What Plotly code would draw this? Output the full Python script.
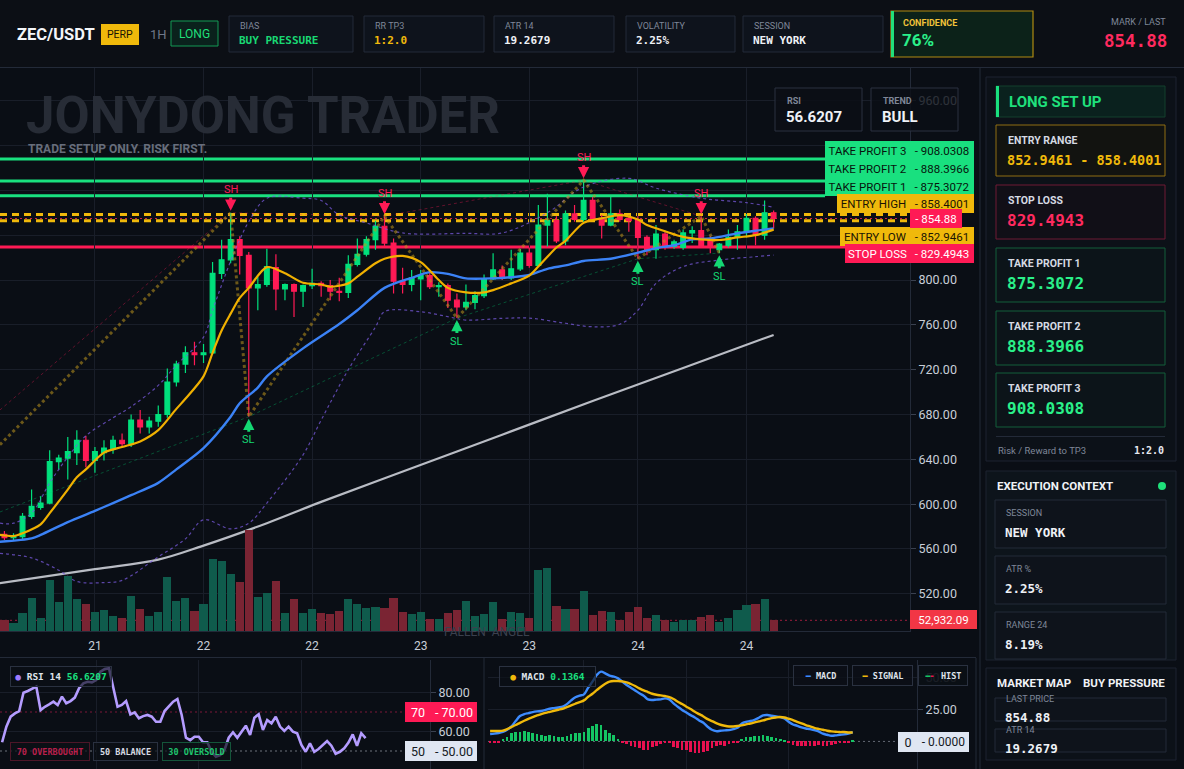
import plotly.graph_objects as go

W, H = 1184, 769

# ---------------- data ----------------
hours = list(range(86))
tick_idx = [10, 22, 34, 46, 58, 70, 82]
tick_text = ["21", "22", "22", "23", "23", "24", "24"]
price_ticks = [520, 560, 600, 640, 680, 720, 760, 800, 840, 880, 920, 960]
hidden_price_ticks = [840, 880, 920]  # covered by the level tags in the picture

opens = [573, 570, 571, 589, 597, 601, 638, 641, 646, 657, 639, 646, 649, 657, 654, 675, 669, 674, 680, 709,
         725, 735, 733.5, 735, 806, 818, 836, 822, 793, 796, 811, 792, 796, 790, 795, 797, 795, 790, 789, 814,
         823, 836, 848, 833, 799, 796, 801, 804, 794, 795, 782, 776, 780, 786, 801, 809, 802, 810, 824, 813,
         849, 853, 835, 859, 854, 871, 855, 849, 859, 855, 854, 838, 827, 841, 830, 829, 842, 844, 836, 827,
         831, 838, 843, 855, 840, 860]
highs = [576, 574, 592, 613, 607, 648, 644, 660, 666, 661, 651, 657, 661, 663, 680, 684, 678, 688, 721, 728,
         741, 745, 743, 816, 836, 860, 839, 825, 803, 828, 823, 797, 797, 796, 810, 799, 800, 802, 822, 837,
         839, 853, 857, 837, 811, 809, 809, 807, 798, 797, 788, 796, 790, 805, 824, 813, 827, 828, 829, 867,
         877, 857, 862, 867, 889, 874, 858, 874, 863, 858, 857, 840, 849, 844, 836, 845, 848, 857, 839, 833,
         845, 849, 859, 857, 871, 862]
lows = [568, 568, 569, 587, 595, 600, 631, 622, 635, 633, 628, 639, 645, 651, 651, 663, 663, 669, 677, 705,
        717, 724, 726, 734, 801, 815, 805, 678, 773, 794, 773, 782, 767, 776, 792, 785, 782, 781, 784, 812,
        821, 827, 830, 788, 788, 790, 782, 792, 785, 775, 766, 773, 774, 784, 800, 800, 800, 808, 811, 812,
        830, 833, 831, 852, 852, 853, 837, 848, 852, 843, 819, 822, 819, 827, 828, 827, 833, 829, 824, 824,
        829, 827, 838, 831, 836, 846]
closes = [570, 572, 589, 598, 601, 638, 641, 647, 657, 639, 647, 650, 657, 654, 675, 669, 674, 680, 709, 725,
          735, 733.5, 735, 806, 818, 836, 822, 793, 796, 812, 792, 796, 790, 795, 797, 795, 790, 789, 814, 823,
          836, 848, 833, 799, 796, 802, 804, 794, 795, 782, 776, 780, 786, 801, 809, 802, 810, 824, 813, 849,
          853, 835, 859, 854, 871, 855, 849, 859, 854, 853, 838, 827, 841, 830, 834, 842, 844, 830, 830, 832,
          838, 843, 855, 840, 860, 854.88]
volumes = [54e3, 41e3, 89e3, 163e3, 64e3, 250e3, 143e3, 272e3, 158e3, 134e3, 94e3, 104e3, 74e3, 64e3, 173e3,
           109e3, 74e3, 94e3, 267e3, 148e3, 163e3, 99e3, 134e3, 356e3, 346e3, 284e3, 242e3, 498e3, 168e3, 188e3,
           247e3, 89e3, 158e3, 89e3, 109e3, 89e3, 84e3, 99e3, 158e3, 134e3, 114e3, 119e3, 114e3, 163e3, 94e3,
           84e3, 94e3, 59e3, 59e3, 89e3, 104e3, 148e3, 74e3, 84e3, 143e3, 59e3, 94e3, 89e3, 64e3, 302e3,
           312e3, 124e3, 109e3, 109e3, 198e3, 79e3, 99e3, 94e3, 53e3, 94e3, 119e3, 64e3, 79e3, 53e3, 45e3,
           54e3, 54e3, 69e3, 79e3, 45e3, 64e3, 104e3, 129e3, 134e3, 158e3, 52932.09]

ema_fast_x = [-0.5, 1, 2, 4, 5, 7, 8, 9, 11, 13, 15, 17, 19, 20, 22, 23, 24, 25, 26, 27, 29, 31, 33, 35, 36, 38, 39,
              41, 42, 44, 46, 48, 49, 51, 53, 54, 56, 58, 59, 61, 62, 64, 66, 68, 70, 71, 73, 75, 77, 79, 81, 83, 85]
ema_fast_y = [572.5, 571.5, 574, 582, 592, 613, 624, 631, 646, 651, 656, 666, 685, 694, 714, 735, 755, 770, 784, 793,
              811.5, 806, 797.5, 796, 794, 797, 803, 815, 819, 821.5, 816, 800, 793, 789, 789, 791, 797, 804, 812,
              829, 835, 851, 855, 858, 854, 849, 843.5, 838.5, 836.3, 835.7, 838, 840, 845]
ema_slow_x = [-0.5, 3, 4, 7, 10, 12, 14, 17, 19, 22, 25, 26, 28, 29, 33, 37, 39, 42, 45, 47, 49, 51, 54, 56, 58, 60,
              62, 64, 67, 70, 72, 74, 76, 78, 81, 83, 85]
ema_slow_y = [566.5, 569.5, 572.5, 584, 594, 601, 608, 619, 631, 650, 678, 690, 704, 714, 739, 760.7, 773, 793, 802,
              807, 805.5, 801.5, 801.5, 802.5, 804.5, 810, 813, 817, 819, 824.4, 828.5, 831, 836.3, 837, 841.6,
              844, 846]
ema_long_x = [-0.5, 10, 17, 22, 29, 35, 45, 55, 65, 75, 85]
ema_long_y = [529.5, 542, 550.5, 563, 583, 602, 632, 662, 692, 721.5, 751]
band_up_x = [-0.5, 1, 3, 5, 7, 9, 12, 14, 17, 19, 22, 23, 25, 26, 27, 29, 33, 35, 37, 40, 44, 51, 55, 60, 64, 69,
             72, 77, 82, 85]
band_up_y = [583, 583, 592, 619, 642, 661, 677, 687, 706, 724, 749, 773, 817, 836, 852, 873, 873, 871, 858, 851,
             842, 841.7, 842, 860, 883, 890.7, 882, 873, 869, 865]
band_lo_x = [-0.5, 3, 6, 8, 11, 13, 17, 20, 22, 25, 27, 29, 33, 35, 38, 41, 42, 46, 49, 51, 55, 58, 62, 65, 68, 70,
             72, 75, 79, 83, 85]
band_lo_y = [556, 552, 541, 531, 530, 532, 553, 569, 586, 578, 583, 601, 644, 675, 720, 758, 771.7, 771.7, 767.3,
             764.3, 765.8, 766, 761.4, 758.3, 760.5, 773, 797, 812, 817.8, 820.8, 822.3]

sh_idx = [25, 42, 64, 77]
sl_idx = [27, 50, 70, 79]
edge_x = -0.5
zig_start, hi_start, lo_start = 653, 684, 593

rsi = [54.5, 62.5, 67.6, 69.3, 70.5, 79.9, 80.8, 81.8, 83.0, 71.0, 72.7, 73.9, 75.3, 73.6, 77.9, 74.5, 75.6, 77.4,
       82.2, 84.7, 85.5, 85.2, 86.4, 90.7, 92.0, 92.4, 83.0, 72.7, 73.6, 75.6, 68.8, 69.8, 66.8, 67.9, 68.5, 67.6,
       65.0, 65.0, 70.5, 72.7, 75.3, 76.7, 68.5, 56.8, 55.6, 57.3, 57.3, 54.5, 54.5, 49.6, 47.1, 47.9, 50.5, 56.8,
       59.6, 56.8, 59.9, 63.0, 58.2, 67.1, 68.8, 60.8, 65.9, 64.2, 67.6, 62.5, 60.3, 62.5, 59.9, 59.1, 53.1, 49.6,
       53.9, 49.6, 51.0, 53.1, 55.1, 52.7, 48.6, 49.6, 51.4, 54.3, 58.5, 52.7, 59.1, 56.62]
macd = [5.8, 6.1, 6.6, 7.5, 9.1, 11.7, 15.9, 19.8, 21.3, 22.1, 22.9, 23.4, 23.7, 24.5, 25.5, 26.0, 26.5, 27.1, 29.1,
        32.0, 34.4, 35.7, 36.7, 41.9, 46.6, 51.8, 54.4, 53.1, 51.3, 50.5, 49.2, 46.6, 44.0, 41.9, 39.8, 37.5, 35.7,
        32.8, 32.3, 32.6, 32.8, 33.6, 32.8, 29.7, 27.1, 24.5, 22.6, 20.5, 18.7, 16.4, 14.5, 11.4, 9.1, 8.0, 8.3,
        8.6, 8.8, 9.6, 10.6, 14.0, 15.3, 15.9, 16.9, 18.5, 20.3, 20.6, 20.0, 19.5, 19.0, 17.9, 15.3, 13.2, 12.2,
        10.9, 10.1, 9.6, 8.8, 7.8, 6.0, 5.2, 4.4, 4.7, 5.2, 5.5, 6.2, 7.3]
signal = [8.1, 8.1, 8.1, 8.4, 9.6, 11.2, 12.8, 14.5, 16.1, 17.6, 18.9, 20.3, 21.3, 22.3, 23.1, 23.9, 24.7, 25.5,
          26.8, 28.1, 29.4, 30.7, 32.0, 34.9, 37.2, 40.0, 42.7, 45.0, 46.6, 47.1, 47.1, 46.8, 46.1, 44.8, 43.2,
          41.4, 39.8, 38.5, 37.2, 36.4, 35.9, 35.4, 34.6, 33.1, 31.0, 29.2, 27.1, 25.3, 23.1, 21.3, 19.5, 17.4,
          15.9, 14.3, 13.0, 12.2, 11.7, 11.7, 12.0, 12.5, 13.3, 14.0, 14.8, 15.6, 16.4, 17.4, 18.2, 18.7, 19.0,
          18.7, 17.7, 16.7, 15.3, 14.0, 12.8, 11.7, 10.6, 9.8, 9.1, 8.3, 7.8, 7.6, 7.3, 7.3, 7.0, 7.0]
hist = [-0.8, -0.5, -0.5, 1.8, 3.6, 6.3, 7.0, 7.6, 8.1, 7.0, 6.3, 5.7, 4.9, 4.4, 4.9, 4.4, 3.6, 3.6, 4.4, 5.5, 6.3,
        6.8, 7.0, 10.2, 12.2, 13.5, 12.8, 8.9, 6.3, 4.9, 1.8, -1.6, -2.3, -3.4, -4.4, -5.5, -6.8, -7.0, -4.7, -3.4,
        -2.3, -1.3, -1.6, -4.2, -5.5, -6.3, -7.0, -8.6, -8.9, -8.9, -8.6, -7.6, -5.5, -3.4, -2.9, -3.9, -1.8, -0.8,
        -0.5, 1.6, 3.4, 3.6, 3.9, 4.2, 4.9, 4.2, 3.1, 2.3, 1.8, 1.0, -0.8, -2.9, -3.4, -3.6, -3.9, -3.4, -3.6, -2.9,
        -3.4, -3.9, -2.9, -2.3, -1.6, -0.8, -0.5, 0.8]

tp3, tp2, tp1 = 908.0308, 888.3966, 875.3072
entry_high, entry_low, stop_loss = 858.4001, 852.9461, 829.4943
rsi_now, macd_now, atr14 = 56.6207, 0.1364, 19.2679

# ---------------- style ----------------
BG = "#0a0e15"
GRID = "#191e29"
EDGE = "#232a38"
GREEN = "#00e07c"
RED = "#ff1a55"
GOLD = "#f0b90b"
TXT = "#c9ced8"
DIM = "#7f8798"
SANS = "Roboto, Noto Sans, sans-serif"
NARROW = "Roboto, sans-serif"
MONO = "DejaVu Sans Mono, monospace"

S, A = [], []


def rect(x0, y0, x1, y1, fill, line=None, lw=1):
    S.append(dict(type="rect", xref="paper", yref="paper", x0=x0 / W, x1=x1 / W,
                  y0=1 - y1 / H, y1=1 - y0 / H, fillcolor=fill, layer="above",
                  line=dict(color=line or "rgba(0,0,0,0)", width=lw if line else 0)))


def pline(x0, y0, x1, y1, color, w=1, dash="solid"):
    S.append(dict(type="line", xref="paper", yref="paper", x0=x0 / W, x1=x1 / W,
                  y0=1 - y0 / H, y1=1 - y1 / H, line=dict(color=color, width=w, dash=dash), layer="above"))


def text(x, y, s, size=11, color=TXT, anchor="left", family=SANS, bold=False):
    A.append(dict(xref="paper", yref="paper", x=x / W, y=1 - y / H, showarrow=False,
                  text=f"<b>{s}</b>" if bold else s, xanchor=anchor, yanchor="middle",
                  font=dict(size=size, color=color, family=family)))


def tag(x0, x1, yc, s, bg, fg, h=17, size=12, border=None, family=NARROW, align="center"):
    A.append(dict(xref="paper", yref="paper", x=x0 / W, y=1 - yc / H, xanchor="left", yanchor="middle",
                  width=x1 - x0, height=h, text=s, showarrow=False, bgcolor=bg, align=align,
                  bordercolor=border or bg, borderwidth=1, borderpad=0,
                  font=dict(size=size, color=fg, family=family)))


fig = go.Figure()

vol_colors = ["#0f5b4c" if c >= o else "#7a2433" for o, c in zip(opens, closes)]
fig.add_trace(go.Bar(x=hours, y=volumes, marker=dict(color=vol_colors, line=dict(width=0)), width=0.9,
                     xaxis="x", yaxis="y2", hoverinfo="skip"))
fig.add_trace(go.Scatter(x=ema_long_x, y=ema_long_y, mode="lines", line=dict(color="#b9bcc4", width=2.2, shape="spline"),
                         hoverinfo="skip"))
for bx, by in ((band_up_x, band_up_y), (band_lo_x, band_lo_y)):
    fig.add_trace(go.Scatter(x=bx, y=by, mode="lines", hoverinfo="skip",
                             line=dict(color="rgba(120,90,220,0.75)", width=1.2, dash="dot", shape="spline")))

# swing structure lines
hi_x = [edge_x] + sh_idx
hi_y = [hi_start] + [highs[i] for i in sh_idx]
lo_x = [edge_x] + sl_idx
lo_y = [lo_start] + [lows[i] for i in sl_idx]
fig.add_trace(go.Scatter(x=hi_x, y=hi_y, mode="lines", hoverinfo="skip",
                         line=dict(color="rgba(255,26,85,0.35)", width=1, dash="dot")))
fig.add_trace(go.Scatter(x=lo_x, y=lo_y, mode="lines", hoverinfo="skip",
                         line=dict(color="rgba(0,200,110,0.35)", width=1, dash="dot")))
piv = sorted([(i, highs[i]) for i in sh_idx] + [(i, lows[i]) for i in sl_idx])
zig_x = [edge_x] + [p[0] for p in piv]
zig_y = [zig_start] + [p[1] for p in piv]
fig.add_trace(go.Scatter(x=zig_x, y=zig_y, mode="lines", hoverinfo="skip",
                         line=dict(color="rgba(190,150,30,0.55)", width=3, dash="dot")))

fig.add_trace(go.Candlestick(x=hours, open=opens, high=highs, low=lows, close=closes, whiskerwidth=0,
                             increasing=dict(line=dict(color=GREEN, width=1.2), fillcolor=GREEN),
                             decreasing=dict(line=dict(color=RED, width=1.2), fillcolor=RED),
                             hoverinfo="skip"))
fig.add_trace(go.Scatter(x=ema_slow_x, y=ema_slow_y, mode="lines", hoverinfo="skip",
                         line=dict(color="#3b82f6", width=2.4, shape="spline", smoothing=0.8)))
fig.add_trace(go.Scatter(x=ema_fast_x, y=ema_fast_y, mode="lines", hoverinfo="skip",
                         line=dict(color="#f0b000", width=2.2, shape="spline", smoothing=0.8)))

# RSI panel
fig.add_trace(go.Scatter(x=hours, y=rsi, mode="lines", xaxis="x2", yaxis="y3", hoverinfo="skip",
                         line=dict(color="#b49cff", width=2.6)))
# MACD panel
fig.add_trace(go.Bar(x=hours, y=hist, width=0.62, xaxis="x3", yaxis="y4", hoverinfo="skip",
                     marker=dict(color=["#14c463" if v >= 0 else "#e8104f" for v in hist], line=dict(width=0))))
fig.add_trace(go.Scatter(x=hours, y=macd, mode="lines", xaxis="x3", yaxis="y4", hoverinfo="skip",
                         line=dict(color="#3d8bfd", width=2.4, shape="spline")))
fig.add_trace(go.Scatter(x=hours, y=signal, mode="lines", xaxis="x3", yaxis="y4", hoverinfo="skip",
                         line=dict(color="#f0b90b", width=2.4, shape="spline")))

# ---------------- level lines ----------------
def level(y, x1, color, w=3, dash="solid"):
    S.append(dict(type="line", xref="paper", yref="y", x0=0, x1=x1 / W, y0=y, y1=y, layer="below",
                  line=dict(color=color, width=w, dash=dash)))


level(tp3, 825, "#19e07f")
level(tp2, 825, "#19e07f")
level(tp1, 825, "#19e07f")
level(stop_loss, 845, RED)
level(entry_high, 909, GOLD, 3, "7px,5px")
level(entry_low, 909, GOLD, 3, "7px,5px")
level(closes[-1], 909, "rgba(255,40,90,0.8)", 1, "2px,3px")
S.append(dict(type="line", xref="paper", yref="y2", x0=0, x1=909 / W, y0=volumes[-1], y1=volumes[-1],
              layer="below", line=dict(color="rgba(255,40,90,0.6)", width=1, dash="2px,3px")))

# level tags
for name, val, yc, x0, bg, fg in [
    ("TAKE PROFIT 1", tp1, 186.5, 825, "#19e07f", "#07140d"),
    ("TAKE PROFIT 2", tp2, 168, 825, "#19e07f", "#07140d"),
    ("TAKE PROFIT 3", tp3, 150.5, 825, "#19e07f", "#07140d"),
    ("ENTRY HIGH", entry_high, 203, 837, GOLD, "#1a1404"),
    ("ENTRY LOW", entry_low, 236, 840, GOLD, "#1a1404"),
    ("STOP LOSS", stop_loss, 254, 845, RED, "#ffffff"),
]:
    tag(x0, 908, yc, name, bg, fg, size=11.5)
    tag(910, 972, yc, f"- {val:.4f}", bg, fg, size=11.5)
tag(910, 960, 219, f"- {closes[-1]:.2f}", RED, "#ffffff", size=11.5)
tag(910, 975, 619.5, f"{volumes[-1]:,.2f}", "#f23645", "#ffffff", size=11.5)

# swing markers
for i in sh_idx:
    A.append(dict(x=i, y=highs[i], xref="x", yref="y", text="SH", showarrow=True, arrowhead=2, arrowsize=0.75,
                  arrowwidth=3, arrowcolor="#ff1a55", ax=0, ay=-23, standoff=2,
                  font=dict(size=11, color="#ff1a55", family=NARROW)))
for i in sl_idx:
    A.append(dict(x=i, y=lows[i], xref="x", yref="y", text="SL", showarrow=True, arrowhead=2, arrowsize=0.75,
                  arrowwidth=3, arrowcolor="#14d873", ax=0, ay=23, standoff=2,
                  font=dict(size=11, color="#14d873", family=NARROW)))

# ---------------- chart overlays ----------------
text(24, 115, "JONYDONG TRADER", 51, "#272c36", bold=True)
text(26, 149, "TRADE SETUP ONLY. RISK FIRST.", 12, "#676d7b", bold=True, family=NARROW)
text(487, 632, "FALLEN  ANGEL", 12, "#3a404e", anchor="center", family=NARROW)
rect(775, 88, 862, 131, "rgba(11,15,22,0.88)", "#2a3140")
rect(871, 88, 958, 131, "rgba(11,15,22,0.82)", "#2a3140")
text(785, 101, "RSI", 9, DIM, bold=True)
text(784, 117, f"{rsi_now:.4f}", 15, "#eef1f6", bold=True, family=NARROW)
text(881, 101, "TREND", 9, DIM, bold=True)
text(880, 117, "BULL", 15, "#eef1f6", bold=True, family=NARROW)

# RSI panel decorations
S.append(dict(type="line", xref="paper", yref="y3", x0=0, x1=405 / W, y0=70, y1=70, layer="below",
              line=dict(color="rgba(200,30,80,0.6)", width=1, dash="2px,3px")))
S.append(dict(type="line", xref="paper", yref="y3", x0=0, x1=405 / W, y0=50, y1=50, layer="below",
              line=dict(color="rgba(190,196,210,0.55)", width=1, dash="2px,3px")))
tag(10, 110, 676, f"<span style='color:#9d7bff'>●</span> <b>RSI 14</b> <span style='color:#19e07f'><b>{rsi_now:.4f}</b></span>",
    "rgba(11,15,22,0.65)", "#dfe3ea", h=19, size=9.5, border="#2a3140", family=MONO)
tag(10, 88, 751.5, "<b>70 OVERBOUGHT</b>", "rgba(11,15,22,0.7)", "#b8204c", h=17, size=8.5, border="#4d1628", family=MONO)
tag(93, 156, 751.5, "<b>50 BALANCE</b>", "rgba(11,15,22,0.7)", "#d6dae2", h=17, size=8.5, border="#2a3140", family=MONO)
tag(162, 229, 751.5, "<b>30 OVERSOLD</b>", "rgba(11,15,22,0.7)", "#1fc46d", h=17, size=8.5, border="#14553a", family=MONO)
tag(405, 429, 712, "70", RED, "#ffffff", h=18, size=12.5)
tag(431, 475, 712, "- 70.00", RED, "#ffffff", h=18, size=12.5)
tag(405, 429, 751, "50", "#dfe6f2", "#151a24", h=18, size=12.5)
tag(431, 475, 751, "- 50.00", "#dfe6f2", "#151a24", h=18, size=12.5)

# MACD panel decorations
S.append(dict(type="line", xref="paper", yref="y4", x0=488 / W, x1=898 / W, y0=0, y1=0, layer="below",
              line=dict(color="rgba(190,196,210,0.5)", width=1, dash="2px,3px")))
tag(499, 594, 676, f"<span style='color:#f0b90b'>●</span> <b>MACD</b> <span style='color:#19e07f'><b>{macd_now:.4f}</b></span>",
    "rgba(11,15,22,0.65)", "#dfe3ea", h=19, size=9.5, border="#2a3140", family=MONO)
tag(793, 846, 675, "<span style='color:#3d8bfd'>━</span> <b>MACD</b>", "rgba(11,15,22,0.8)", "#dfe3ea",
    h=19, size=8.5, border="#2a3140", family=MONO)
tag(852, 911, 675, "<span style='color:#f0b90b'>━</span> <b>SIGNAL</b>", "rgba(11,15,22,0.8)", "#dfe3ea",
    h=19, size=8.5, border="#2a3140", family=MONO)
tag(918, 966, 675, "<span style='color:#14c463'>━</span><span style='color:#e8104f'>╸</span> <b>HIST</b>",
    "rgba(11,15,22,0.92)", "#dfe3ea", h=19, size=8.5, border="#2a3140", family=MONO)
tag(898, 916, 741.5, "0", "#dfe6f2", "#151a24", h=18, size=12.5)
tag(918, 967, 741.5, "- 0.0000", "#dfe6f2", "#151a24", h=18, size=12)

# frame lines
pline(0, 657.5, 976, 657.5, EDGE)
pline(484, 658, 484, 769, EDGE)
pline(976, 658, 976, 769, EDGE)
pline(980, 68, 980, 769, EDGE)

# ---------------- header ----------------
rect(0, 0, W, 67, "#0c0f15")
pline(0, 67.5, W, 67.5, EDGE)
text(15, 34, "ZEC/USDT", 16.5, "#f4f6fa", bold=True)
rect(101, 24, 139, 45, GOLD)
text(120, 34.5, "PERP", 10.5, "#1a1404", anchor="center", family=NARROW)
text(148, 34, "1H", 13, "#6f7788")
rect(171, 21, 218, 46, "rgba(0,200,100,0.10)", "#139a55")
text(194.5, 34, "LONG", 12, "#20df79", anchor="center", family=NARROW)
for x0, x1, lab, val, col in [(229, 353, "BIAS", "BUY PRESSURE", "#19d873"),
                              (364, 484, "RR TP3", "1:2.0", GOLD),
                              (494, 614, "ATR 14", f"{atr14:.4f}", "#eef1f6"),
                              (626, 735, "VOLATILITY", "2.25%", "#eef1f6"),
                              (743, 883, "SESSION", "NEW YORK", "#eef1f6")]:
    rect(x0, 16, x1, 52, "#0e131c", EDGE)
    text(x0 + 9, 26, lab, 9, DIM, family=NARROW)
    text(x0 + 8, 41, val, 11, col, bold=True, family=MONO)
rect(891, 11, 1033, 57, "#0c2219", "#b08a12", 1.2)
rect(891, 11, 894, 57, "#22e07a")
text(901, 23, "CONFIDENCE", 9, "#f0c33a", bold=True, family=NARROW)
text(900, 40, "76%", 17, "#2af08a", bold=True)
text(1168, 22, "MARK / LAST", 9, DIM, anchor="right", family=NARROW)
text(1169, 41, f"{closes[-1]:.2f}", 17.5, "#ff2a5f", anchor="right", bold=True, family=MONO)

# ---------------- right panel ----------------
rect(986, 77, 1176, 461, "#0c1118", "#1c2230")
rect(996, 86, 1165, 117, "rgba(0,200,100,0.09)", "#12412c")
rect(996, 86, 999, 117, "#19e07f")
text(1007, 101.5, "LONG SET UP", 15, "#1fe07c", bold=True)
for y0, y1, lab, val, col, border, fill in [
    (125, 176, "ENTRY RANGE", f"{entry_low:.4f} - {entry_high:.4f}", GOLD, "#8f6f12", "#121310"),
    (185, 239, "STOP LOSS", f"{stop_loss:.4f}", "#ff2a5f", "#6e1a34", "#110f17"),
    (248, 302, "TAKE PROFIT 1", f"{tp1:.4f}", "#2af08a", "#135f3a", "#0c1419"),
    (311, 365, "TAKE PROFIT 2", f"{tp2:.4f}", "#2af08a", "#135f3a", "#0c1419"),
    (373, 427, "TAKE PROFIT 3", f"{tp3:.4f}", "#2af08a", "#135f3a", "#0c1419"),
]:
    rect(996, y0, 1165, y1, fill, border)
    text(1006, y0 + 15, lab, 10.5, "#d6dae2", bold=True, family=NARROW)
    big = 13.5 if len(val) > 10 else 16
    text(1005, y0 + 35, val, big, col, bold=True, family=MONO)
pline(996, 436.5, 1165, 436.5, EDGE)
text(996, 450, "Risk / Reward to TP3", 9.5, DIM, family=NARROW)
text(1166, 450, "1:2.0", 10, "#e6e9ef", anchor="right", bold=True, family=MONO)

rect(986, 471, 1176, 660, "#0d141b", "#1c2230")
text(995, 486, "EXECUTION CONTEXT", 11.5, "#f0f2f6", bold=True, family=NARROW)
S.append(dict(type="circle", xref="paper", yref="paper", x0=1158 / W, x1=1166 / W, y0=1 - 490 / H, y1=1 - 482 / H,
              fillcolor="#1ee07a", line=dict(width=0), layer="above"))
for y0, y1, lab, val in [(500, 548, "SESSION", "NEW YORK"), (556, 604, "ATR %", "2.25%"),
                         (612, 659, "RANGE 24", "8.19%")]:
    rect(995, y0, 1166, y1, "#0e131b", "#232a38")
    text(1004, y0 + 13, lab, 9, DIM, family=NARROW)
    text(1003, y0 + 32, val, 12.5, "#eef1f6", bold=True, family=MONO)

rect(986, 668, 1176, 760, "#0c1118", "#1c2230")
text(995, 683, "MARKET MAP", 11.5, "#f0f2f6", bold=True, family=NARROW)
text(1167, 683, "BUY PRESSURE", 11.5, "#f0f2f6", anchor="right", bold=True, family=NARROW)
for y0, y1, lab, val in [(698, 721, "LAST PRICE", f"{closes[-1]:.2f}"), (729, 752, "ATR 14", f"{atr14:.4f}")]:
    rect(995, y0, 1166, y1, "#0e131b", "#232a38")
    text(1004, y0 + 1, lab, 9, DIM, family=NARROW)
    text(1003, y0 + 19, val, 12.5, "#eef1f6", bold=True, family=MONO)

# ---------------- layout ----------------
ax_common = dict(zeroline=False, fixedrange=True)
price_labels = ["" if v in hidden_price_ticks else f"{v:.2f}" for v in price_ticks]
fig.update_layout(
    width=W, height=H, margin=dict(l=0, r=0, t=0, b=0),
    paper_bgcolor=BG, plot_bgcolor="rgba(0,0,0,0)",
    showlegend=False, bargap=0, boxgap=0.25, hovermode=False,
    font=dict(family=SANS, color=TXT),
    shapes=S, annotations=A,
    xaxis=dict(domain=[0, 910 / W], range=[-0.49, 100.07], tickvals=tick_idx, ticktext=tick_text,
               showgrid=True, gridcolor=GRID, showline=True, linecolor=EDGE, ticks="",
               tickfont=dict(size=12, color=TXT, family=NARROW), ticklabelstandoff=4,
               rangeslider=dict(visible=False), anchor="y", **ax_common),
    yaxis=dict(domain=[1 - 631 / H, 1 - 68 / H], range=[486.8, 989.2], side="right",
               tickvals=price_ticks, ticktext=price_labels,
               showgrid=True, gridcolor=GRID, ticks="outside", ticklen=5, tickcolor="#3a4150",
               showline=True, linecolor=EDGE, tickfont=dict(size=12.5, color=TXT, family=NARROW),
               anchor="x", **ax_common),
    yaxis2=dict(overlaying="y", range=[0, 2.785e6], visible=False, **ax_common),
    xaxis2=dict(domain=[0, 430 / W], range=[-0.49, 100.07], tickvals=[22, 46, 70], showticklabels=False,
                showgrid=True, gridcolor=GRID, showline=False, anchor="y3", **ax_common),
    yaxis3=dict(domain=[0, 109 / H], range=[40.77, 96.67], side="right", tickvals=[60, 80], tickformat=".2f",
                showgrid=True, gridcolor=GRID, ticks="outside", ticklen=5, tickcolor="#3a4150",
                showline=True, linecolor=EDGE, tickfont=dict(size=12.5, color=TXT, family=NARROW),
                anchor="x2", **ax_common),
    xaxis3=dict(domain=[488 / W, 917 / W], range=[-0.49, 100.07], tickvals=[22, 46, 70], showticklabels=False,
                showgrid=True, gridcolor=GRID, showline=False, anchor="y4", **ax_common),
    yaxis4=dict(domain=[0, 109 / H], range=[-21.5, 63.5], side="right", tickvals=[25, 50], tickformat=".2f",
                showgrid=True, gridcolor=GRID, ticks="outside", ticklen=5, tickcolor="#3a4150",
                showline=True, linecolor=EDGE, tickfont=dict(size=12.5, color=TXT, family=NARROW),
                anchor="x3", **ax_common),
)

fig.write_html("out.html", config={"displayModeBar": False},
               post_script="document.body.style.margin='0';document.body.style.overflow='hidden';")
